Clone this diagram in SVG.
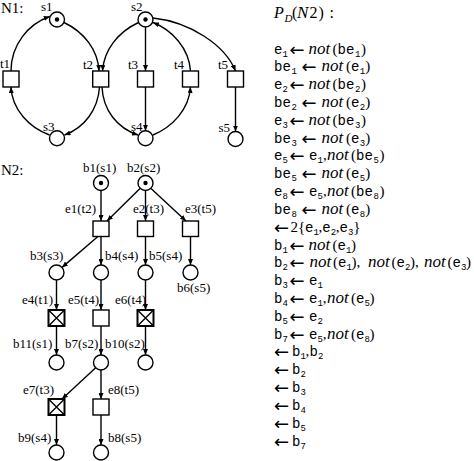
<svg xmlns="http://www.w3.org/2000/svg" width="474" height="461" viewBox="0 0 474 461">
<style>
.pl{fill:#fff;stroke:#000;stroke-width:1.4}
.tr{fill:#fff;stroke:#000;stroke-width:1.4}
.cut{fill:#fff;stroke:#000;stroke-width:2}
.x{stroke:#000;stroke-width:1.4;fill:none}
.tok{fill:#000}
.arc{fill:none;stroke:#000;stroke-width:1.4;marker-end:url(#ah)}
.lb{font-family:"Liberation Serif",serif;font-size:13px;fill:#000}
.hd{font-family:"Liberation Serif",serif;font-size:15px;fill:#000}
.m{font-family:"Liberation Mono",monospace;font-size:14px}
.ms{font-family:"Liberation Mono",monospace;font-size:9px}
.it{font-family:"Liberation Serif",serif;font-style:italic;font-size:17px}
.rm{font-family:"Liberation Serif",serif;font-size:15px}
.ar{font-family:"DejaVu Sans",sans-serif;font-size:18px}
</style>
<defs>
<marker id="ah" viewBox="0 0 6 5" refX="6" refY="2.5" markerWidth="6" markerHeight="5" markerUnits="userSpaceOnUse" orient="auto"><path d="M0,0 L6,2.5 L0,5 z" fill="#000"/></marker>
</defs>
<rect width="474" height="461" fill="#fff"/>

<text class="hd" x="1" y="12.5">N1:</text>
<text class="hd" x="1" y="175">N2:</text>

<g id="connectors">
<path class="arc" d="M 11 71 C 11 45 28 24 49.8 16.5"/>
<path class="arc" d="M 64 22.5 C 84 32 98 50 99 71"/>
<path class="arc" d="M 138.5 22.5 C 118 32 104 50 102.5 71"/>
<path class="arc" d="M 99.5 87 C 98 110 84 128 64.5 135"/>
<path class="arc" d="M 49.5 135 C 30 128 12 110 11 87"/>
<path class="arc" d="M 102 87 C 103 110 117 128 138 135"/>
<path class="arc" d="M 145.5 27 L 145.5 71"/>
<path class="arc" d="M 145.5 87 L 145.5 130.8"/>
<path class="arc" d="M 153 135 C 172 127 189 110 190.5 87"/>
<path class="arc" d="M 190.5 71 C 189 48 172 30 153 22.5"/>
<path class="arc" d="M 153 18 C 190 22 225 45 235.5 71"/>
<path class="arc" d="M 235.5 87 L 235.5 131.5"/>

<path class="arc" d="M 101 190.5 L 101 221"/>
<path class="arc" d="M 140 188.5 L 107 221"/>
<path class="arc" d="M 145.5 191 L 145.5 221"/>
<path class="arc" d="M 151 188.5 L 186 221"/>
<path class="arc" d="M 98.5 236 L 62 267.4"/>
<path class="arc" d="M 101 236 L 101 265"/>
<path class="arc" d="M 145.5 236 L 145.5 265"/>
<path class="arc" d="M 190.5 236 L 190.5 265"/>
<path class="arc" d="M 56.5 280 L 56.5 310"/>
<path class="arc" d="M 101 280 L 101 310"/>
<path class="arc" d="M 145.5 280 L 145.5 310"/>
<path class="arc" d="M 56.5 326 L 56.5 355"/>
<path class="arc" d="M 101 326 L 101 355"/>
<path class="arc" d="M 145.5 326 L 145.5 355"/>
<path class="arc" d="M 95.7 367.8 L 62 399"/>
<path class="arc" d="M 101 370 L 101 399"/>
<path class="arc" d="M 56.5 415 L 56.5 445"/>
<path class="arc" d="M 101 415 L 101 445"/>
</g>

<g id="s1"><circle class="pl" cx="57" cy="19.5" r="7.5"/><circle class="tok" cx="57" cy="19.5" r="2.2"/><text class="lb" x="41" y="11">s1</text></g>
<g id="s2"><circle class="pl" cx="145.5" cy="19.5" r="7.5"/><circle class="tok" cx="145.5" cy="19.5" r="2.2"/><text class="lb" x="131" y="11">s2</text></g>
<g id="s3"><circle class="pl" cx="57" cy="138.3" r="7.5"/><text class="lb" x="43" y="130.5">s3</text></g>
<g id="s4"><circle class="pl" cx="145.5" cy="138.3" r="7.5"/><text class="lb" x="131" y="130.5">s4</text></g>
<g id="s5"><circle class="pl" cx="235.5" cy="139" r="7.5"/><text class="lb" x="218.5" y="131.5">s5</text></g>
<g id="t1"><rect class="tr" x="3" y="71" width="16" height="16"/><text class="lb" x="0" y="68">t1</text></g>
<g id="t2"><rect class="tr" x="92.7" y="71" width="16" height="16"/><text class="lb" x="83" y="68.5">t2</text></g>
<g id="t3"><rect class="tr" x="137.5" y="71" width="16" height="16"/><text class="lb" x="128" y="68.5">t3</text></g>
<g id="t4"><rect class="tr" x="182.5" y="71" width="16" height="16"/><text class="lb" x="174" y="68.5">t4</text></g>
<g id="t5"><rect class="tr" x="227.5" y="71" width="16" height="16"/><text class="lb" x="218" y="68.5">t5</text></g>

<g id="b1"><circle class="pl" cx="101" cy="183" r="7.5"/><circle class="tok" cx="101" cy="183" r="2.2"/><text class="lb" x="83" y="171.5">b1(s1)</text></g>
<g id="b2"><circle class="pl" cx="145.5" cy="183" r="7.5"/><circle class="tok" cx="145.5" cy="183" r="2.2"/><text class="lb" x="127" y="171.5">b2(s2)</text></g>
<g id="e1"><rect class="tr" x="93" y="221" width="16" height="15.5"/><text class="lb" x="65" y="213">e1(t2)</text></g>
<g id="e2"><rect class="tr" x="137.5" y="221" width="16" height="15.5"/><text class="lb" x="133" y="213">e2(t3)</text></g>
<g id="e3"><rect class="tr" x="182.5" y="221" width="16" height="15.5"/><text class="lb" x="185" y="213">e3(t5)</text></g>
<g id="b3"><circle class="pl" cx="56.5" cy="272.5" r="7.5"/><text class="lb" x="30" y="259.5">b3(s3)</text></g>
<g id="b4"><circle class="pl" cx="101" cy="272.5" r="7.5"/><text class="lb" x="105" y="259.5">b4(s4)</text></g>
<g id="b5"><circle class="pl" cx="145.5" cy="272.5" r="7.5"/><text class="lb" x="149" y="259.5">b5(s4)</text></g>
<g id="b6"><circle class="pl" cx="190.5" cy="272.5" r="7.5"/><text class="lb" x="177" y="291.5">b6(s5)</text></g>
<g id="e4"><rect class="cut" x="48.5" y="310" width="16" height="16"/><path class="x" d="M48.5 310 L64.5 326 M64.5 310 L48.5 326"/><text class="lb" x="22" y="303.5">e4(t1)</text></g>
<g id="e5"><rect class="tr" x="93" y="310" width="16" height="16"/><text class="lb" x="68" y="303.5">e5(t4)</text></g>
<g id="e6"><rect class="cut" x="137.5" y="310" width="16" height="16"/><path class="x" d="M137.5 310 L153.5 326 M153.5 310 L137.5 326"/><text class="lb" x="115" y="303.5">e6(t4)</text></g>
<g id="b11"><circle class="pl" cx="56.5" cy="362.5" r="7.5"/><text class="lb" x="13" y="347.5">b11(s1)</text></g>
<g id="b7"><circle class="pl" cx="101" cy="362.5" r="7.5"/><text class="lb" x="65" y="347.5">b7(s2)</text></g>
<g id="b10"><circle class="pl" cx="145.5" cy="362.5" r="7.5"/><text class="lb" x="105" y="347.5">b10(s2)</text></g>
<g id="e7"><rect class="cut" x="48.5" y="399" width="16" height="16"/><path class="x" d="M48.5 399 L64.5 415 M64.5 399 L48.5 415"/><text class="lb" x="23" y="393.5">e7(t3)</text></g>
<g id="e8"><rect class="tr" x="93" y="399" width="16" height="16"/><text class="lb" x="108" y="393.5">e8(t5)</text></g>
<g id="b9"><circle class="pl" cx="56.5" cy="452.5" r="7.5"/><text class="lb" x="18" y="441.5">b9(s4)</text></g>
<g id="b8"><circle class="pl" cx="101" cy="452.5" r="7.5"/><text class="lb" x="108" y="441.5">b8(s5)</text></g>

<g id="program" fill="#000">
<text><tspan class="it" style="font-size:16px" x="274" y="18.3">P</tspan><tspan class="it" style="font-size:11px" x="284.5" y="21.5">D</tspan><tspan class="rm" style="font-size:16px" x="292" y="18.3">(</tspan><tspan class="it" x="297" y="18.3">N</tspan><tspan class="rm" style="font-size:16px" x="309.5" y="18.3">2</tspan><tspan class="rm" style="font-size:16px" x="318.5" y="18.3">)</tspan><tspan class="rm" style="font-size:16px" x="329.5" y="18.3">:</tspan></text>

<text><tspan class="m" x="274" y="53.5">e</tspan><tspan class="ms" x="282.5" y="56.5">1</tspan><tspan class="ar" x="289.5" y="55.5">←</tspan><tspan class="it" x="308.5" y="53.5">not</tspan><tspan class="rm" x="332.5" y="53.5">(</tspan><tspan class="m" x="337.5" y="53.5">be</tspan><tspan class="ms" x="355" y="56.5">1</tspan><tspan class="rm" x="361" y="53.5">)</tspan></text>
<text><tspan class="m" x="274" y="71.3">be</tspan><tspan class="ms" x="291.5" y="74.3">1</tspan><tspan class="ar" x="301.5" y="73.3">←</tspan><tspan class="it" x="321.5" y="71.3">not</tspan><tspan class="rm" x="346" y="71.3">(</tspan><tspan class="m" x="351" y="71.3">e</tspan><tspan class="ms" x="359.8" y="74.3">1</tspan><tspan class="rm" x="365.3" y="71.3">)</tspan></text>
<text><tspan class="m" x="274" y="89.1">e</tspan><tspan class="ms" x="282.5" y="92.1">2</tspan><tspan class="ar" x="289.5" y="91.1">←</tspan><tspan class="it" x="308.5" y="89.1">not</tspan><tspan class="rm" x="332.5" y="89.1">(</tspan><tspan class="m" x="337.5" y="89.1">be</tspan><tspan class="ms" x="355" y="92.1">2</tspan><tspan class="rm" x="361" y="89.1">)</tspan></text>
<text><tspan class="m" x="274" y="107">be</tspan><tspan class="ms" x="291.5" y="110">2</tspan><tspan class="ar" x="301.5" y="109">←</tspan><tspan class="it" x="321.5" y="107">not</tspan><tspan class="rm" x="346" y="107">(</tspan><tspan class="m" x="351" y="107">e</tspan><tspan class="ms" x="359.8" y="110">2</tspan><tspan class="rm" x="365.3" y="107">)</tspan></text>
<text><tspan class="m" x="274" y="124.8">e</tspan><tspan class="ms" x="282.5" y="127.8">3</tspan><tspan class="ar" x="289.5" y="126.8">←</tspan><tspan class="it" x="308.5" y="124.8">not</tspan><tspan class="rm" x="332.5" y="124.8">(</tspan><tspan class="m" x="337.5" y="124.8">be</tspan><tspan class="ms" x="355" y="127.8">3</tspan><tspan class="rm" x="361" y="124.8">)</tspan></text>
<text><tspan class="m" x="274" y="142.6">be</tspan><tspan class="ms" x="291.5" y="145.6">3</tspan><tspan class="ar" x="301.5" y="144.6">←</tspan><tspan class="it" x="321.5" y="142.6">not</tspan><tspan class="rm" x="346" y="142.6">(</tspan><tspan class="m" x="351" y="142.6">e</tspan><tspan class="ms" x="359.8" y="145.6">3</tspan><tspan class="rm" x="365.3" y="142.6">)</tspan></text>
<text><tspan class="m" x="274" y="160.4">e</tspan><tspan class="ms" x="282.5" y="163.4">5</tspan><tspan class="ar" x="289.5" y="162.4">←</tspan><tspan class="m" x="309" y="160.4">e</tspan><tspan class="ms" x="317.5" y="163.4">1</tspan><tspan class="rm" x="323" y="160.4">,</tspan><tspan class="it" x="327" y="160.4">not</tspan><tspan class="rm" x="351" y="160.4">(</tspan><tspan class="m" x="356" y="160.4">be</tspan><tspan class="ms" x="373.5" y="163.4">5</tspan><tspan class="rm" x="379.5" y="160.4">)</tspan></text>
<text><tspan class="m" x="274" y="178.2">be</tspan><tspan class="ms" x="291.5" y="181.2">5</tspan><tspan class="ar" x="301.5" y="180.2">←</tspan><tspan class="it" x="321.5" y="178.2">not</tspan><tspan class="rm" x="346" y="178.2">(</tspan><tspan class="m" x="351" y="178.2">e</tspan><tspan class="ms" x="359.8" y="181.2">5</tspan><tspan class="rm" x="365.3" y="178.2">)</tspan></text>
<text><tspan class="m" x="274" y="196.1">e</tspan><tspan class="ms" x="282.5" y="199.1">8</tspan><tspan class="ar" x="289.5" y="198.1">←</tspan><tspan class="m" x="309" y="196.1">e</tspan><tspan class="ms" x="317.5" y="199.1">5</tspan><tspan class="rm" x="323" y="196.1">,</tspan><tspan class="it" x="327" y="196.1">not</tspan><tspan class="rm" x="351" y="196.1">(</tspan><tspan class="m" x="356" y="196.1">be</tspan><tspan class="ms" x="373.5" y="199.1">8</tspan><tspan class="rm" x="379.5" y="196.1">)</tspan></text>
<text><tspan class="m" x="274" y="213.9">be</tspan><tspan class="ms" x="291.5" y="216.9">8</tspan><tspan class="ar" x="301.5" y="215.9">←</tspan><tspan class="it" x="321.5" y="213.9">not</tspan><tspan class="rm" x="346" y="213.9">(</tspan><tspan class="m" x="351" y="213.9">e</tspan><tspan class="ms" x="359.8" y="216.9">8</tspan><tspan class="rm" x="365.3" y="213.9">)</tspan></text>
<text><tspan class="ar" x="274" y="233.7">←</tspan><tspan class="rm" x="290.5" y="231.7">2</tspan><tspan class="rm" x="298" y="231.7">{</tspan><tspan class="m" x="305" y="231.7">e</tspan><tspan class="ms" x="313.4" y="234.7">1</tspan><tspan class="rm" x="318.5" y="231.7">,</tspan><tspan class="m" x="322.3" y="231.7">e</tspan><tspan class="ms" x="330.7" y="234.7">2</tspan><tspan class="rm" x="335.8" y="231.7">,</tspan><tspan class="m" x="339.6" y="231.7">e</tspan><tspan class="ms" x="348" y="234.7">3</tspan><tspan class="rm" x="353.2" y="231.7">}</tspan></text>
<text><tspan class="m" x="274" y="249.5">b</tspan><tspan class="ms" x="282.5" y="252.5">1</tspan><tspan class="ar" x="289.5" y="251.5">←</tspan><tspan class="it" x="308.5" y="249.5">not</tspan><tspan class="rm" x="332.5" y="249.5">(</tspan><tspan class="m" x="337.5" y="249.5">e</tspan><tspan class="ms" x="345.9" y="252.5">1</tspan><tspan class="rm" x="351" y="249.5">)</tspan></text>
<text><tspan class="m" x="274" y="267.3">b</tspan><tspan class="ms" x="282.5" y="270.3">2</tspan><tspan class="ar" x="289.5" y="269.3">←</tspan><tspan class="it" x="309.5" y="267.3">not</tspan><tspan class="rm" x="333" y="267.3">(</tspan><tspan class="m" x="338" y="267.3">e</tspan><tspan class="ms" x="346.4" y="270.3">1</tspan><tspan class="rm" x="351.5" y="267.3">)</tspan><tspan class="rm" x="356.5" y="267.3">,</tspan><tspan class="it" x="368" y="267.3">not</tspan><tspan class="rm" x="391.5" y="267.3">(</tspan><tspan class="m" x="396.5" y="267.3">e</tspan><tspan class="ms" x="404.9" y="270.3">2</tspan><tspan class="rm" x="410" y="267.3">)</tspan><tspan class="rm" x="415" y="267.3">,</tspan><tspan class="it" x="424" y="267.3">not</tspan><tspan class="rm" x="447.5" y="267.3">(</tspan><tspan class="m" x="452.5" y="267.3">e</tspan><tspan class="ms" x="460.9" y="270.3">3</tspan><tspan class="rm" x="466" y="267.3">)</tspan></text>
<text><tspan class="m" x="274" y="285.2">b</tspan><tspan class="ms" x="282.5" y="288.2">3</tspan><tspan class="ar" x="289.5" y="287.2">←</tspan><tspan class="m" x="309" y="285.2">e</tspan><tspan class="ms" x="317.4" y="288.2">1</tspan></text>
<text><tspan class="m" x="274" y="303">b</tspan><tspan class="ms" x="282.5" y="306">4</tspan><tspan class="ar" x="289.5" y="305">←</tspan><tspan class="m" x="309" y="303">e</tspan><tspan class="ms" x="317.4" y="306">1</tspan><tspan class="rm" x="322.8" y="303">,</tspan><tspan class="it" x="327" y="303">not</tspan><tspan class="rm" x="351" y="303">(</tspan><tspan class="m" x="356" y="303">e</tspan><tspan class="ms" x="364.4" y="306">5</tspan><tspan class="rm" x="369.5" y="303">)</tspan></text>
<text><tspan class="m" x="274" y="320.8">b</tspan><tspan class="ms" x="282.5" y="323.8">5</tspan><tspan class="ar" x="289.5" y="322.8">←</tspan><tspan class="m" x="309" y="320.8">e</tspan><tspan class="ms" x="317.4" y="323.8">2</tspan></text>
<text><tspan class="m" x="274" y="338.6">b</tspan><tspan class="ms" x="282.5" y="341.6">7</tspan><tspan class="ar" x="289.5" y="340.6">←</tspan><tspan class="m" x="309" y="338.6">e</tspan><tspan class="ms" x="317.4" y="341.6">5</tspan><tspan class="rm" x="322.8" y="338.6">,</tspan><tspan class="it" x="327" y="338.6">not</tspan><tspan class="rm" x="351" y="338.6">(</tspan><tspan class="m" x="356" y="338.6">e</tspan><tspan class="ms" x="364.4" y="341.6">8</tspan><tspan class="rm" x="369.5" y="338.6">)</tspan></text>
<text><tspan class="ar" x="274" y="358.4">←</tspan><tspan class="m" x="292" y="356.4">b</tspan><tspan class="ms" x="300.4" y="359.4">1</tspan><tspan class="rm" x="305.6" y="356.4">,</tspan><tspan class="m" x="309.5" y="356.4">b</tspan><tspan class="ms" x="317.9" y="359.4">2</tspan></text>
<text><tspan class="ar" x="274" y="376.3">←</tspan><tspan class="m" x="292" y="374.3">b</tspan><tspan class="ms" x="300.4" y="377.3">2</tspan></text>
<text><tspan class="ar" x="274" y="394.1">←</tspan><tspan class="m" x="292" y="392.1">b</tspan><tspan class="ms" x="300.4" y="395.1">3</tspan></text>
<text><tspan class="ar" x="274" y="411.9">←</tspan><tspan class="m" x="292" y="409.9">b</tspan><tspan class="ms" x="300.4" y="412.9">4</tspan></text>
<text><tspan class="ar" x="274" y="429.7">←</tspan><tspan class="m" x="292" y="427.7">b</tspan><tspan class="ms" x="300.4" y="430.7">5</tspan></text>
<text><tspan class="ar" x="274" y="447.5">←</tspan><tspan class="m" x="292" y="445.5">b</tspan><tspan class="ms" x="300.4" y="448.5">7</tspan></text>
</g>
</svg>
